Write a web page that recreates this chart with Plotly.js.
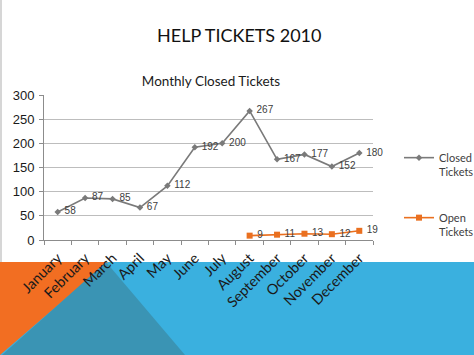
<!DOCTYPE html>
<html><head><meta charset="utf-8">
<script src="https://cdn.plot.ly/plotly-3.0.1.min.js"></script>
<style>html,body{margin:0;padding:0;background:#fff;}#chart{width:474px;height:355px;}</style>
</head><body><div id="chart"></div>
<script>
const months = ["January","February","March","April","May","June","July","August","September","October","November","December"];
const closedTickets = [58,87,85,67,112,192,200,267,167,177,152,180];
const openMonths = ["August","September","October","November","December"];
const openTickets = [9,11,13,12,19];

const L = 44, R = 373, T = 95, B = 240, W = 474, H = 355;
const px = x => (x - L) / (R - L);
const py = y => (B - y) / (B - T);

const traces = [
  {x: months, y: closedTickets, name: "Closed<br>Tickets", type: "scatter", mode: "lines+markers+text",
   texttemplate: "\u00a0%{y}", textposition: "middle right",
   textfont: {family: "Liberation Sans, Arial", size: 10, color: "#404040"},
   line: {color: "#7a7a7a", width: 1.6}, marker: {symbol: "diamond", size: 5, color: "#7a7a7a"},
   legend: "legend", cliponaxis: false},
  {x: openMonths, y: openTickets, name: "Open<br>Tickets", type: "scatter", mode: "lines+markers+text",
   texttemplate: "\u00a0%{y}", textposition: "middle right",
   textfont: {family: "Liberation Sans, Arial", size: 10, color: "#404040"},
   line: {color: "#EA7020", width: 1.6}, marker: {symbol: "square", size: 6, color: "#EA7020"},
   legend: "legend2", cliponaxis: false}
];

const bandTop = 262;
const layout = {
  width: W, height: H,
  margin: {l: L, r: W - R, t: T, b: H - B, pad: 0, autoexpand: false},
  paper_bgcolor: "#ffffff", plot_bgcolor: "#ffffff",
  showlegend: true,
  title: {text: "Monthly Closed Tickets", font: {family: "Lato, Liberation Sans", size: 13.5, color: "#1a1a1a"},
          x: px(211), xanchor: "center", xref: "paper", y: 1 - 81/H, yanchor: "middle"},
  xaxis: {type: "category", categoryorder: "array", categoryarray: months, range: [-0.5, 11.5],
          tickangle: -45, tickfont: {family: "Lato, Liberation Sans", size: 14.5, color: "#1a1a1a"},
          showline: true, linecolor: "#8c8c8c", linewidth: 1, ticks: "outside", ticklen: 4, tickcolor: "#8c8c8c",
          tickson: "boundaries", showgrid: false, fixedrange: true, ticklabelstandoff: 3, automargin: false},
  yaxis: {range: [0, 300], dtick: 50, tickfont: {family: "Liberation Sans, Arial", size: 13, color: "#1a1a1a"},
          showline: true, linecolor: "#8c8c8c", linewidth: 1, ticks: "outside", ticklen: 4, tickcolor: "#8c8c8c",
          gridcolor: "#bdbdbd", gridwidth: 1, zeroline: false, ticklabelstandoff: 2, fixedrange: true, automargin: false},
  legend: {x: px(399), y: py(144), xanchor: "left", yanchor: "top", valign: "top",
           font: {family: "Lato, Liberation Sans", size: 11, color: "#404040"}, bgcolor: "rgba(0,0,0,0)", itemwidth: 30},
  legend2: {x: px(399), y: py(204), xanchor: "left", yanchor: "top", valign: "top",
           font: {family: "Lato, Liberation Sans", size: 11, color: "#404040"}, bgcolor: "rgba(0,0,0,0)", itemwidth: 30},
  annotations: [
    {text: "HELP TICKETS 2010", xref: "paper", yref: "paper", x: px(239), y: py(35), xanchor: "center", yanchor: "middle",
     showarrow: false, font: {family: "Lato, Liberation Sans", size: 18, color: "#111"}}
  ],
  shapes: [
    {type: "rect", xref: "paper", yref: "paper", x0: px(0), x1: px(2), y0: py(0), y1: py(bandTop), fillcolor: "#d6d6d6", line: {width: 0}, layer: "below"},
    {type: "rect", xref: "paper", yref: "paper", x0: px(0), x1: px(W), y0: py(bandTop), y1: py(H), fillcolor: "#3AB0DF", line: {width: 0}, layer: "below"},
    {type: "path", xref: "paper", yref: "paper", fillcolor: "#F26E22", line: {width: 0}, layer: "below",
     path: `M ${px(0)} ${py(bandTop)} L ${px(108)} ${py(bandTop)} L ${px(0)} ${py(H)} Z`},
    {type: "path", xref: "paper", yref: "paper", fillcolor: "#3A94B4", line: {width: 0}, layer: "below",
     path: `M ${px(106)} ${py(bandTop)} L ${px(185)} ${py(H)} L ${px(2)} ${py(H)} Z`}
  ]
};
Plotly.newPlot("chart", traces, layout, {displayModeBar: false, staticPlot: true});
</script></body></html>
